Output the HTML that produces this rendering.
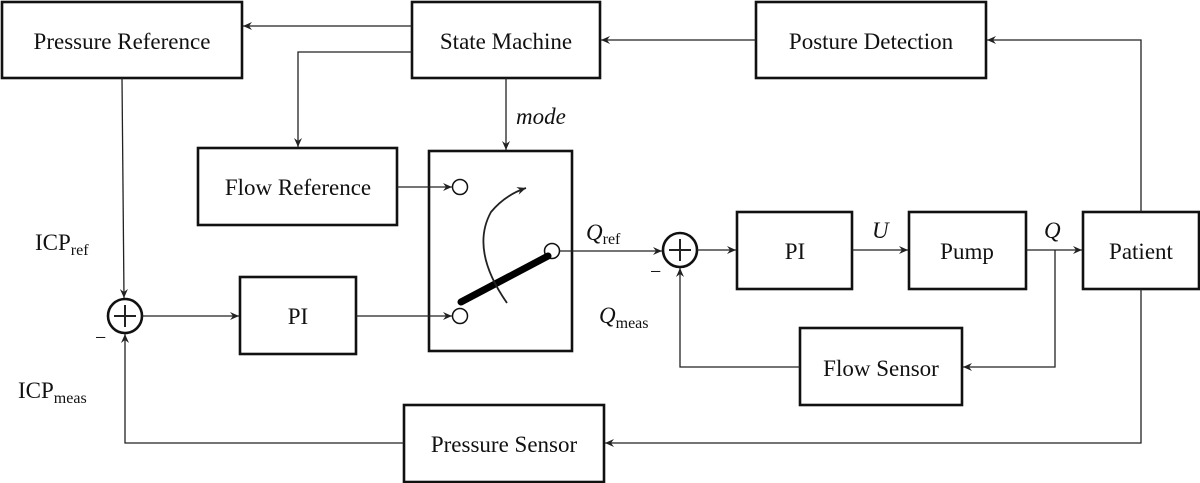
<!DOCTYPE html>
<html><head><meta charset="utf-8"><style>
html,body{margin:0;padding:0;background:#fff;}
svg{display:block;}
text{font-family:"Liberation Serif",serif;font-size:23px;fill:#111;}
.b{fill:none;stroke:#111;stroke-width:2.6;}
.l{fill:none;stroke:#222;stroke-width:1.3;}
</style></head><body>
<svg width="1200" height="483" viewBox="0 0 1200 483" xmlns="http://www.w3.org/2000/svg">
<defs><marker id="a" markerWidth="10" markerHeight="8" refX="9" refY="4" orient="auto" markerUnits="userSpaceOnUse"><path d="M0,0 L9,4 L0,8 L3,4 Z" fill="#222"/></marker></defs>
<!-- boxes -->
<rect class="b" x="2" y="2" width="240" height="76"/>
<rect class="b" x="412" y="2" width="188" height="76"/>
<rect class="b" x="756" y="2" width="230" height="76"/>
<rect class="b" x="198" y="148" width="199" height="77"/>
<rect class="b" x="429" y="151" width="143" height="200"/>
<rect class="b" x="240" y="277" width="116" height="77"/>
<rect class="b" x="404" y="405" width="200" height="77"/>
<rect class="b" x="737" y="212" width="115" height="77"/>
<rect class="b" x="909" y="212" width="117" height="77"/>
<rect class="b" x="1083" y="212" width="116" height="77"/>
<rect class="b" x="800" y="328" width="162" height="77"/>
<text x="122" y="49" text-anchor="middle">Pressure Reference</text>
<text x="506" y="49" text-anchor="middle">State Machine</text>
<text x="871" y="49" text-anchor="middle">Posture Detection</text>
<text x="298" y="195" text-anchor="middle">Flow Reference</text>
<text x="298" y="324" text-anchor="middle">PI</text>
<text x="504" y="452" text-anchor="middle">Pressure Sensor</text>
<text x="795" y="259" text-anchor="middle">PI</text>
<text x="967" y="259" text-anchor="middle">Pump</text>
<text x="1141" y="259" text-anchor="middle">Patient</text>
<text x="881" y="376" text-anchor="middle">Flow Sensor</text>
<!-- sums -->
<circle class="b" cx="125" cy="316" r="17"/>
<path class="l" d="M114,316 H136 M125,305 V327" style="stroke-width:2"/>
<circle class="b" cx="680" cy="250" r="17"/>
<path class="l" d="M669,250 H691 M680,239 V261" style="stroke-width:2"/>
<text x="95" y="344" style="font-size:20px">−</text>
<text x="650" y="278" style="font-size:20px">−</text>
<!-- switch -->
<circle cx="460" cy="187" r="7.5" fill="#fff" stroke="#111" stroke-width="1.5"/>
<circle cx="460" cy="316" r="7.5" fill="#fff" stroke="#111" stroke-width="1.5"/>
<circle cx="552" cy="251" r="7.5" fill="#fff" stroke="#111" stroke-width="1.5"/>
<line x1="461" y1="302" x2="548" y2="256" stroke="#000" stroke-width="7" stroke-linecap="round"/>
<path class="l" d="M507,303 Q470,250 491,212 Q505,195 526,188" marker-end="url(#a)" style="stroke-width:1.8"/>
<!-- connectors -->
<path class="l" d="M412,26 H243" marker-end="url(#a)"/>
<path class="l" d="M412,52 H298 V147" marker-end="url(#a)"/>
<path class="l" d="M506,78 V150" marker-end="url(#a)"/>
<path class="l" d="M756,40 H601" marker-end="url(#a)"/>
<path class="l" d="M1141,212 V40 H987" marker-end="url(#a)"/>
<path class="l" d="M122,78 L124,298" marker-end="url(#a)"/>
<path class="l" d="M142,316 H239" marker-end="url(#a)"/>
<path class="l" d="M356,316 H452" marker-end="url(#a)"/>
<path class="l" d="M397,187 H452" marker-end="url(#a)"/>
<path class="l" d="M404,443 H125 V334" marker-end="url(#a)"/>
<path class="l" d="M560,251 H662" marker-end="url(#a)"/>
<path class="l" d="M697,250 H736" marker-end="url(#a)"/>
<path class="l" d="M852,250 H908" marker-end="url(#a)"/>
<path class="l" d="M1026,250 H1082" marker-end="url(#a)"/>
<path class="l" d="M1055,250 V367 H963" marker-end="url(#a)"/>
<path class="l" d="M800,367 H680 V268" marker-end="url(#a)"/>
<path class="l" d="M1141,289 V443 H605" marker-end="url(#a)"/>
<!-- labels -->
<text x="516" y="124" font-style="italic">mode</text>
<text x="35" y="250">ICP<tspan style="font-size:16px" dy="5">ref</tspan></text>
<text x="18" y="398">ICP<tspan style="font-size:16px" dy="5">meas</tspan></text>
<text x="586" y="240" font-style="italic">Q<tspan font-style="normal" style="font-size:16px" dy="4">ref</tspan></text>
<text x="599" y="323" font-style="italic">Q<tspan font-style="normal" style="font-size:16px" dy="5">meas</tspan></text>
<text x="872" y="238" font-style="italic">U</text>
<text x="1044" y="238" font-style="italic">Q</text>
</svg>
</body></html>
